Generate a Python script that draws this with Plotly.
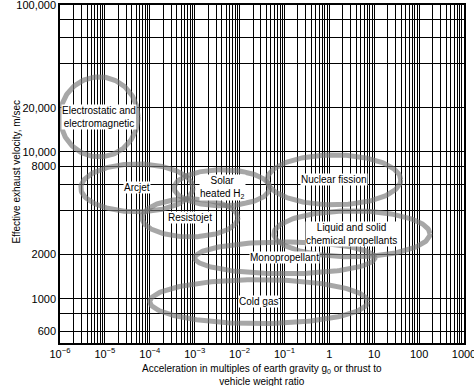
import numpy as np
import plotly.graph_objects as go

# ---- data: regions of operation (acceleration range in g0, exhaust velocity range in m/s)
regions = ["Electrostatic and<br>electromagnetic", "Arcjet", "Resistojet", "Solar<br>heated H<sub>2</sub>",
           "Nuclear fission", "Liquid and solid<br>chemical propellants", "Monopropellant", "Cold gas"]
accel_min = [1.0e-6, 2.9e-6, 6.7e-5, 3.5e-4, 0.041, 0.058, 1.0e-3, 1.0e-4]
accel_max = [5.5e-5, 9.2e-4, 9.2e-3, 0.0475, 39.0, 174.0, 10.4, 7.2]
vel_min = [9250, 3910, 2640, 4300, 4360, 1930, 1480, 677]
vel_max = [32400, 8280, 4790, 7550, 9540, 3970, 2440, 1350]

x_grid = [n * 10.0 ** k for k in range(-6, 3) for n in range(1, 10)] + [1000.0]
x_major = [1e-6, 1e-5, 1e-4, 1e-3, 1e-2, 1e-1, 1, 10, 100, 1000]
x_major_text = ["10<sup>−6</sup>", "10<sup>−5</sup>", "10<sup>−4</sup>", "10<sup>−3</sup>",
                "10<sup>−2</sup>", "10<sup>−1</sup>", "1", "10", "100", "1000"]
y_grid = [600, 800, 1000, 2000, 4000, 6000, 8000, 10000, 20000, 40000, 60000, 80000, 100000]
y_labeled = {600: "600", 1000: "1000", 2000: "2000", 8000: "8000",
             10000: "10,000", 20000: "20,000", 100000: "100,000"}

FONT = "Liberation Sans, Arial, Helvetica, sans-serif"

fig = go.Figure()
t = np.linspace(0, 2 * np.pi, 200)
for i, name in enumerate(regions):
    lx0, lx1 = np.log10(accel_min[i]), np.log10(accel_max[i])
    ly0, ly1 = np.log10(vel_min[i]), np.log10(vel_max[i])
    cx, cy = (lx0 + lx1) / 2, (ly0 + ly1) / 2
    ax, ay = (lx1 - lx0) / 2, (ly1 - ly0) / 2
    xs = 10 ** (cx + ax * np.cos(t))
    ys = 10 ** (cy + ay * np.sin(t))
    fig.add_trace(go.Scatter(x=xs, y=ys, mode="lines",
                             line=dict(color="rgba(120,120,120,0.65)", width=5),
                             hoverinfo="skip", showlegend=False))
    fig.add_annotation(x=cx, y=cy, xref="x", yref="y", text=name, showarrow=False,
                       font=dict(family=FONT, size=10, color="black"),
                       bgcolor="white", borderpad=0)

fig.add_annotation(xref="paper", yref="paper", x=0.5, y=-0.094, yanchor="middle",
                   text="Acceleration in multiples of earth gravity g<sub>0</sub> or thrust to<br>vehicle weight ratio",
                   showarrow=False, font=dict(family=FONT, size=10, color="black"))
fig.add_annotation(xref="paper", yref="paper", x=-0.126, y=0.506, textangle=-90,
                   text="Effective exhaust velocity, m/sec", showarrow=False,
                   font=dict(family=FONT, size=10, color="black"))

fig.update_layout(
    width=474, height=386,
    margin=dict(l=60, r=10, t=5, b=43, autoexpand=False),
    paper_bgcolor="white", plot_bgcolor="white",
    font=dict(family=FONT, size=11, color="black"),
    xaxis=dict(type="log", range=[-6, 3], tickvals=x_grid, automargin=False,
               ticktext=[x_major_text[x_major.index(v)] if v in x_major else "" for v in x_grid],
               ticklabeloverflow="allow",
               showgrid=True, gridcolor="black", gridwidth=1, ticks="",
               showline=True, linecolor="black", linewidth=1.5, mirror=True, zeroline=False,
               tickfont=dict(family=FONT, size=11)),
    yaxis=dict(type="log", range=[np.log10(500), 5], tickvals=y_grid, automargin=False,
               ticktext=[y_labeled.get(v, "") for v in y_grid],
               ticklabeloverflow="allow",
               showgrid=True, gridcolor="black", gridwidth=1, ticks="",
               showline=True, linecolor="black", linewidth=1.5, mirror=True, zeroline=False,
               tickfont=dict(family=FONT, size=11)),
)

fig.write_html("out.html", config={"displayModeBar": False},
               post_script="document.body.style.margin='0px';document.body.style.overflow='hidden';")
